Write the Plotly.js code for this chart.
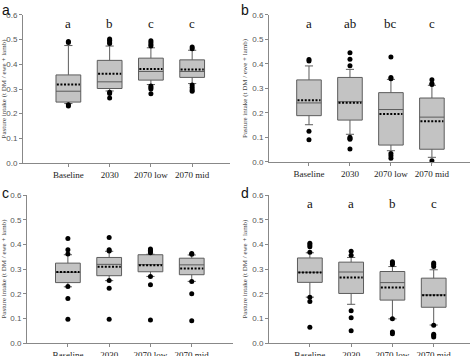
<!DOCTYPE html>
<html>
<head>
<meta charset="utf-8">
<script src="https://cdn.plot.ly/plotly-3.0.1.min.js"></script>
<style>html,body{margin:0;padding:0;background:#fff;}#chart{width:474px;height:356px;}</style>
</head>
<body>
<div id="chart"></div>
<script>
const categories = ['Baseline', '2030', '2070 low', '2070 mid'];
const yTitle = 'Pasture intake (t DM / ewe + lamb)';

// Panel a
const aQ1 = [0.247, 0.302, 0.336, 0.347];
const aMedian = [0.291, 0.329, 0.371, 0.371];
const aQ3 = [0.357, 0.416, 0.425, 0.418];
const aMean = [0.318, 0.362, 0.381, 0.379];
const aLower = [0.241, 0.292, 0.318, 0.322];
const aUpper = [0.476, 0.474, 0.467, 0.457];
const aOutliers = [[0.492, 0.488, 0.236, 0.231], [0.503, 0.497, 0.490, 0.484, 0.287, 0.282, 0.264], [0.495, 0.488, 0.480, 0.474, 0.312, 0.306, 0.300, 0.281], [0.470, 0.463, 0.316, 0.306, 0.297, 0.291]];
const aLetters = ['a', 'b', 'c', 'c'];

// Panel b
const bQ1 = [0.189, 0.171, 0.069, 0.052];
const bMedian = [0.241, 0.246, 0.214, 0.183];
const bQ3 = [0.335, 0.345, 0.283, 0.261];
const bMean = [0.252, 0.242, 0.196, 0.166];
const bLower = [0.152, 0.113, 0.046, 0.019];
const bUpper = [0.392, 0.378, 0.337, 0.313];
const bOutliers = [[0.418, 0.412, 0.125, 0.091], [0.446, 0.419, 0.393, 0.101, 0.096, 0.093, 0.053], [0.428, 0.345, 0.340, 0.035, 0.025, 0.015], [0.336, 0.320, 0.316, 0.005]];
const bLetters = ['a', 'ab', 'bc', 'c'];

// Panel c
const cQ1 = [0.245, 0.273, 0.289, 0.277];
const cMedian = [0.287, 0.319, 0.318, 0.317];
const cQ3 = [0.324, 0.347, 0.358, 0.344];
const cMean = [0.288, 0.309, 0.315, 0.302];
const cLower = [0.228, 0.253, 0.270, 0.250];
const cUpper = [0.358, 0.372, 0.360, 0.357];
const cOutliers = [[0.424, 0.378, 0.361, 0.229, 0.181, 0.096], [0.428, 0.378, 0.373, 0.254, 0.222, 0.096], [0.381, 0.376, 0.371, 0.366, 0.270, 0.236, 0.093], [0.363, 0.360, 0.250, 0.200, 0.090]];
const cLetters = ['', '', '', ''];

// Panel d
const dQ1 = [0.246, 0.201, 0.174, 0.145];
const dMedian = [0.287, 0.288, 0.245, 0.195];
const dQ3 = [0.345, 0.328, 0.290, 0.263];
const dMean = [0.286, 0.266, 0.225, 0.194];
const dLower = [0.186, 0.157, 0.098, 0.073];
const dUpper = [0.366, 0.347, 0.310, 0.297];
const dOutliers = [[0.405, 0.398, 0.390, 0.368, 0.186, 0.168, 0.064], [0.372, 0.356, 0.131, 0.102, 0.050], [0.330, 0.325, 0.318, 0.098, 0.045, 0.038], [0.325, 0.318, 0.310, 0.072, 0.036, 0.030, 0.024]];
const dLetters = ['a', 'a', 'b', 'c'];

const panels = [
  {label: 'a', q1: aQ1, med: aMedian, q3: aQ3, mean: aMean, lo: aLower, hi: aUpper, out: aOutliers, letters: aLetters,
   xd: [0.0485, 0.4855], yd: [0.542, 0.958], xr: [-1.1, 3.92]},
  {label: 'b', q1: bQ1, med: bMedian, q3: bQ3, mean: bMean, lo: bLower, hi: bUpper, out: bOutliers, letters: bLetters,
   xd: [0.5675, 0.9916], yd: [0.545, 0.958], xr: [-0.976, 3.93]},
  {label: 'c', q1: cQ1, med: cMedian, q3: cQ3, mean: cMean, lo: cLower, hi: cUpper, out: cOutliers, letters: cLetters,
   xd: [0.057, 0.4916], yd: [0.0365, 0.452], xr: [-0.99, 4.0]},
  {label: 'd', q1: dQ1, med: dMedian, q3: dQ3, mean: dMean, lo: dLower, hi: dUpper, out: dOutliers, letters: dLetters,
   xd: [0.5675, 0.9916], yd: [0.0365, 0.452], xr: [-0.99, 3.88]}
];

const boxWidth = 0.6;
const idx = categories.map((c, i) => i);
const traces = [];
const layout = {
  width: 474, height: 356,
  margin: {l: 0, r: 0, t: 0, b: 0},
  paper_bgcolor: '#fff', plot_bgcolor: '#fff',
  showlegend: false,
  annotations: []
};
const labelPos = [[0.0, 1.0], [0.505, 1.0], [0.0, 0.487], [0.505, 0.487]];

panels.forEach((p, k) => {
  const n = k === 0 ? '' : String(k + 1);
  const xa = 'x' + n, ya = 'y' + n;
  traces.push({
    type: 'box', xaxis: xa, yaxis: ya,
    x: idx, q1: p.q1, median: p.med, q3: p.q3,
    lowerfence: p.lo, upperfence: p.hi,
    width: boxWidth, whiskerwidth: 0.33,
    fillcolor: '#c3c3c3',
    line: {color: '#5c5c5c', width: 1},
    hoverinfo: 'skip'
  });
  const mx = [], my = [];
  p.mean.forEach((m, i) => { mx.push(i - boxWidth / 2 + 0.02, i + boxWidth / 2 - 0.02, null); my.push(m, m, null); });
  traces.push({
    type: 'scatter', mode: 'lines', xaxis: xa, yaxis: ya,
    x: mx, y: my, line: {color: '#000', width: 2, dash: '2px,1.6px'}, hoverinfo: 'skip'
  });
  const ox = [], oy = [];
  p.out.forEach((arr, i) => arr.forEach(v => { ox.push(i); oy.push(v); }));
  traces.push({
    type: 'scatter', mode: 'markers', xaxis: xa, yaxis: ya,
    x: ox, y: oy, marker: {color: '#000', size: 5}, hoverinfo: 'skip', cliponaxis: false
  });
  layout['xaxis' + n] = {
    domain: p.xd, anchor: ya, range: p.xr,
    tickvals: idx, ticktext: categories,
    ticks: 'outside', ticklen: 3, tickcolor: '#888',
    showline: true, linecolor: '#888', linewidth: 1,
    showgrid: false, zeroline: false,
    tickfont: {family: 'Liberation Serif', size: 9, color: '#222'}
  };
  layout['yaxis' + n] = {
    domain: p.yd, anchor: xa, range: [0, 0.6],
    tickvals: [0, 0.1, 0.2, 0.3, 0.4, 0.5, 0.6], tickformat: '.1f',
    ticks: 'outside', ticklen: 3, tickcolor: '#888',
    showline: true, linecolor: '#888', linewidth: 1,
    showgrid: false, zeroline: false,
    tickfont: {family: 'Liberation Sans', size: 8, color: '#555'},
    title: {text: yTitle, font: {family: 'Liberation Serif', size: 7, color: '#444'}, standoff: 3}
  };
  p.letters.forEach((t, i) => {
    if (t) layout.annotations.push({
      xref: xa, yref: ya, x: i, y: 0.565, text: t, showarrow: false,
      font: {family: 'Liberation Serif', size: 13, color: '#111'}
    });
  });
  layout.annotations.push({
    xref: 'paper', yref: 'paper', x: labelPos[k][0], y: labelPos[k][1],
    xanchor: 'left', yanchor: 'top', text: p.label, showarrow: false,
    font: {family: 'Liberation Sans', size: 14, color: '#111'}
  });
});

Plotly.newPlot('chart', traces, layout, {staticPlot: true, displayModeBar: false});
</script>
</body>
</html>
